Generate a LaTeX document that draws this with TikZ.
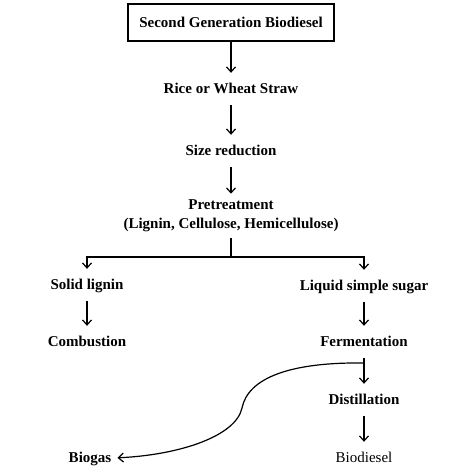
\documentclass[tikz,border=0pt]{standalone}
\usepackage{fontspec}
\setmainfont{Liberation Serif}
\usetikzlibrary{arrows.meta}
\tikzset{
  %% heading box
  headbox/.style={
    rectangle, draw, line width=1.2pt,
    minimum width=206pt, minimum height=37pt,
    font=\fontsize{15}{19}\selectfont\bfseries
  },
  %% step labels
  stage/.style={
    font=\fontsize{15}{19}\selectfont\bfseries,
    inner xsep=2pt, inner ysep=9pt,
    text height=11pt, text depth=3pt
  },
  stagetwo/.style={
    font=\fontsize{15}{19}\selectfont\bfseries,
    align=center, inner xsep=2pt, inner ysep=6pt
  },
  plain/.style={stage, font=\fontsize{15}{19}\selectfont},
  %% arrows
  arr/.style={
    -{Straight Barb[length=5pt, width=9pt]},
    line width=1.2pt
  },
  line/.style={line width=1.2pt}
}
\begin{document}
\begin{tikzpicture}[x=1pt, y=-1pt]
\useasboundingbox (0,0) rectangle (474,475);

%% main column
\node[headbox] (head) at (231,22.5) {Second Generation Biodiesel};
\node[stage] (straw) at (231,89) {Rice or Wheat Straw};
\node[stage] (size) at (231,151) {Size reduction};
\node[stagetwo] (pre) at (231,216) {Pretreatment\\(Lignin, Cellulose, Hemicellulose)};

%% left branch
\node[stage] (lignin) at (87,285) {Solid lignin};
\node[stage] (comb) at (87,342) {Combustion};
\node[stage] (biogas) at (90,458) {Biogas};

%% right branch
\node[stage] (sugar) at (364,286) {Liquid simple sugar};
\node[stage] (ferm) at (364,342) {Fermentation};
\node[stage] (distill) at (364,400) {Distillation};
\node[plain] (biodiesel) at (364,458) {Biodiesel};

\coordinate (fork) at (231,257);
\coordinate (tap) at (364,363);

%% arrows
\draw[arr] (head) -- (straw);
\draw[arr] (straw) -- (size);
\draw[arr] (size) -- (pre);
\draw[line] (pre.south) -- (fork);
\draw[arr] (fork) -| (lignin.north);
\draw[arr] (fork) -| (sugar.north);
\draw[arr] (lignin) -- (comb);
\draw[arr] (sugar) -- (ferm);
\draw[arr] (ferm) -- (distill);
\draw[arr] (distill) -- (biodiesel);

%% side stream to biogas
\draw[arr, shorten >=4pt] (tap) .. controls (290,362) and (248,378) .. (242,408)
  .. controls (236,436) and (180,455) .. (biogas.east);

\end{tikzpicture}
\end{document}
